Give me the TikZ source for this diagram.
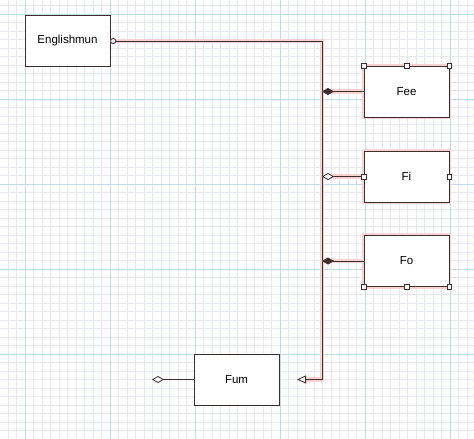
\documentclass[tikz,border=0pt]{standalone}
\usepackage{fontspec}
\setmainfont{Liberation Sans}
\usepackage{tikz}
\usetikzlibrary{arrows.meta,calc,positioning}

\definecolor{minorgrid}{HTML}{E8E9EE}
\definecolor{majorgrid}{HTML}{C2DCE6}
\definecolor{wire}{HTML}{3E2E2E}
\definecolor{glowpink}{HTML}{F9D2D2}

\begin{document}
\begin{tikzpicture}[
  x=1pt, y=-1pt,
  entity/.style={rectangle, draw=wire, fill=white, minimum width=85pt, minimum height=51pt, inner sep=0pt, font=\fontsize{11.5}{13}\selectfont},
  picked/.style={preaction={draw=glowpink, line width=4.5pt}},
  wireline/.style={draw=wire, line width=0.8pt},
  handle/.style={rectangle, draw=wire, fill=white, minimum size=4.5pt, inner sep=0pt, line width=0.5pt},
  >=Stealth
]
  \clip (0,0) rectangle (474,439);
  \fill[white] (0,0) rectangle (474,439);

  % Grid paper
  \foreach \i in {0,...,56}
    \draw[minorgrid, line width=0.5pt] ({-0.5+8.5*\i},0) -- ({-0.5+8.5*\i},439);
  \foreach \i in {0,...,52}
    \draw[minorgrid, line width=0.5pt] (0,{-3+8.5*\i}) -- (474,{-3+8.5*\i});
  \foreach \x in {25,110,195,280,365,450}
    \draw[majorgrid, line width=0.6pt] (\x,0) -- (\x,439);
  \foreach \y in {14,99,184,269,354,439}
    \draw[majorgrid, line width=0.6pt] (0,\y) -- (474,\y);

  % Classes
  \node[entity] (eng) at (67.5, 41) {Englishmun};
  \node[entity, picked] (fee) at (406.5, 91.5) {Fee};
  \node[entity, picked] (fi) at (406.5, 176.5) {Fi};
  \node[entity, picked] (fo) at (406.5, 261) {Fo};
  \node[entity] (fum) at (236.5, 379.5) {Fum};

  \coordinate (trunk) at (322, 41);
  \coordinate (fumtip) at (297, 379.5);
  \coordinate (fumtail) at (152, 379.5);

  % Generalization trunk
  \draw[wireline, picked, {Circle[open, length=6pt, fill=white]}-{Triangle[open, length=9pt, width=8pt, fill=white]}]
    (eng.east) -- (trunk) |- (fumtip);

  % Parts
  \draw[wireline, picked, -{Diamond[length=12pt, width=7pt]}] (fee.west) -- (fee.west -| trunk);
  \draw[wireline, picked, -{Diamond[open, length=12pt, width=7pt, fill=white]}] (fi.west) -- (fi.west -| trunk);
  \draw[wireline, picked, -{Diamond[length=12pt, width=7pt]}] (fo.west) -- (fo.west -| trunk);
  \draw[wireline, -{Diamond[open, length=12pt, width=7pt, fill=white]}] (fum.west) -- (fumtail);

  % Selection handles
  \foreach \a/\n in {north west/a, north/b, north east/c}
    \node[handle] (fee-\n) at (fee.\a) {};
  \foreach \a/\n in {west/a, east/b}
    \node[handle] (fi-\n) at (fi.\a) {};
  \foreach \a/\n in {south west/a, south/b, south east/c}
    \node[handle] (fo-\n) at (fo.\a) {};
\end{tikzpicture}
\end{document}
